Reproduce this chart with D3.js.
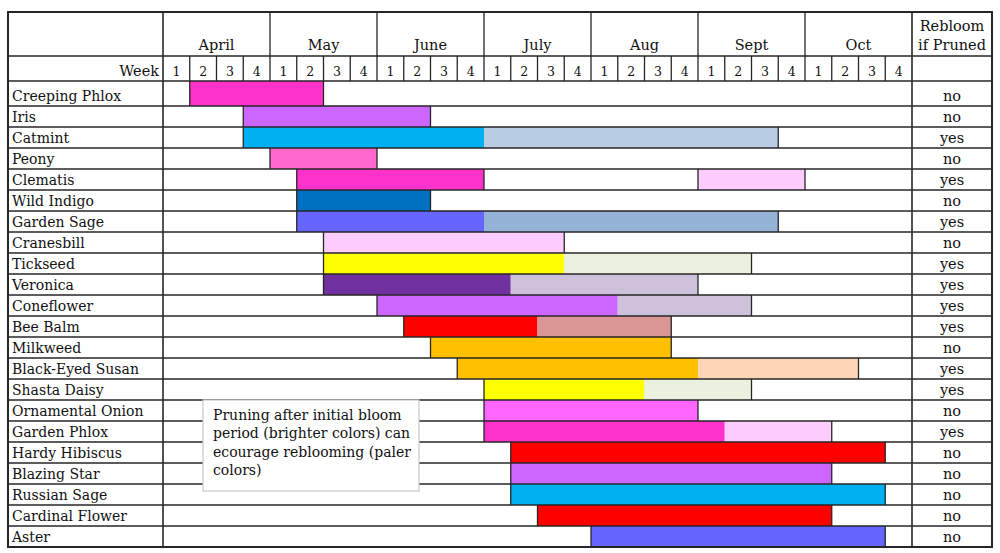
<!DOCTYPE html>
<html>
<head>
<meta charset="utf-8">
<script src="https://cdn.jsdelivr.net/npm/d3@7"></script>
<style>
  body { margin: 0; background: #fff; }
  text { font-family: "DejaVu Serif", Georgia, serif; fill: #111; }
</style>
</head>
<body>
<div id="chart"></div>
<script>
// Bloom calendar: perennials by week, brighter = first bloom, paler = rebloom after pruning

const months = ["April", "May", "June", "July", "Aug", "Sept", "Oct"];
const weekLabels = ["1", "2", "3", "4"];

const plants = ["Creeping Phlox", "Iris", "Catmint", "Peony", "Clematis", "Wild Indigo",
  "Garden Sage", "Cranesbill", "Tickseed", "Veronica", "Coneflower", "Bee Balm", "Milkweed",
  "Black-Eyed Susan", "Shasta Daisy", "Ornamental Onion", "Garden Phlox", "Hardy Hibiscus",
  "Blazing Star", "Russian Sage", "Cardinal Flower", "Aster"];

// week index (0 = April week 1), end is exclusive
const bloomStart = [1, 3, 3, 4, 5, 5, 5, 6, 6, 6, 8, 9, 10, 11, 12, 12, 12, 13, 13, 13, 14, 16];
const bloomEnd   = [6, 10, 12, 8, 12, 10, 12, 15, 15, 13, 17, 14, 19, 20, 18, 20, 21, 27, 25, 27, 25, 27];
const bloomColor = ["#ff33cc", "#cc66ff", "#00b0f0", "#ff66cc", "#ff33cc", "#0070c0",
  "#6666ff", "#ffccff", "#ffff00", "#7030a0", "#cc66ff", "#ff0000", "#ffc000",
  "#ffc000", "#ffff00", "#ff66ff", "#ff33cc", "#ff0000", "#cc66ff", "#00b0f0", "#ff0000", "#6666ff"];

// rebloom period (null = none)
const rebloomStart = [null, null, 12, null, 20, null, 12, null, 15, 13, 17, 14, null, 20, 18, null, 21, null, null, null, null, null];
const rebloomEnd   = [null, null, 23, null, 24, null, 23, null, 22, 20, 22, 19, null, 26, 22, null, 25, null, null, null, null, null];
const rebloomColor = [null, null, "#b8cce4", null, "#ffccff", null, "#95b3d7", null, "#ebf1de",
  "#ccc0da", "#ccc0da", "#da9694", null, "#fcd5b4", "#ebf1de", null, "#ffccff", null, null, null, null, null];

const rebloom = ["no", "no", "yes", "no", "yes", "no", "yes", "no", "yes", "yes", "yes", "yes",
  "no", "yes", "yes", "no", "yes", "no", "no", "no", "no", "no"];

const note = ["Pruning after initial bloom", "period (brighter colors) can",
  "ecourage reblooming (paler", "colors)"];

const W = 1000, H = 553;
const gLeft = 8, labelRight = 163, timeRight = 912, gRight = 992;
const gTop = 12, monthBottom = 56, headBottom = 81, gBottom = 547;
const lineColor = "#262626";

const svg = d3.select("#chart").append("svg")
  .attr("width", W).attr("height", H);

const nWeeks = months.length * weekLabels.length;
const x = d3.scaleLinear().domain([0, nWeeks]).range([labelRight, timeRight]);
// first row is a bit taller: it reaches up to the header line
const y = d3.scaleBand().domain(plants).range([85, gBottom]);
const rowTop = name => (name === plants[0] ? headBottom : y(name));
const rowBottom = name => y(name) + y.bandwidth();

const rows = plants.map((p, i) => ({
  name: p, s: bloomStart[i], e: bloomEnd[i], c: bloomColor[i],
  rs: rebloomStart[i], re: rebloomEnd[i], rc: rebloomColor[i], rb: rebloom[i]
}));

// bloom fills
svg.append("g").selectAll("rect")
  .data(rows).join("rect")
  .attr("x", d => x(d.s)).attr("width", d => x(d.e) - x(d.s))
  .attr("y", d => rowTop(d.name)).attr("height", d => rowBottom(d.name) - rowTop(d.name))
  .attr("fill", d => d.c);

svg.append("g").selectAll("rect")
  .data(rows.filter(d => d.rs !== null)).join("rect")
  .attr("x", d => x(d.rs)).attr("width", d => x(d.re) - x(d.rs))
  .attr("y", d => rowTop(d.name)).attr("height", d => rowBottom(d.name) - rowTop(d.name))
  .attr("fill", d => d.rc);

// cell borders at the edges of each colored block
const edges = [];
rows.forEach(d => {
  edges.push({ name: d.name, w: d.s });
  const end = d.rs !== null ? d.re : d.e;
  if (d.rs !== null && d.rs !== d.e) { edges.push({ name: d.name, w: d.e }); edges.push({ name: d.name, w: d.rs }); }
  edges.push({ name: d.name, w: end });
});
svg.append("g").selectAll("line")
  .data(edges).join("line")
  .attr("x1", d => x(d.w)).attr("x2", d => x(d.w))
  .attr("y1", d => rowTop(d.name)).attr("y2", d => rowBottom(d.name))
  .attr("stroke", lineColor).attr("stroke-width", 1.3);

// horizontal row lines
svg.append("g").selectAll("line")
  .data(plants.slice(1)).join("line")
  .attr("x1", gLeft).attr("x2", gRight)
  .attr("y1", d => y(d)).attr("y2", d => y(d))
  .attr("stroke", lineColor).attr("stroke-width", 1.3);

// header lines
const hdr = svg.append("g").attr("stroke", lineColor);
hdr.append("line").attr("x1", gLeft).attr("x2", gRight).attr("y1", monthBottom).attr("y2", monthBottom).attr("stroke-width", 1.3);
hdr.append("line").attr("x1", gLeft).attr("x2", gRight).attr("y1", headBottom).attr("y2", headBottom).attr("stroke-width", 1.6);
hdr.selectAll(".mline").data(d3.range(1, months.length)).join("line")
  .attr("x1", d => x(d * 4)).attr("x2", d => x(d * 4))
  .attr("y1", gTop).attr("y2", headBottom).attr("stroke-width", 1.3);
hdr.selectAll(".wline").data(d3.range(1, nWeeks).filter(d => d % 4 !== 0)).join("line")
  .attr("x1", d => x(d)).attr("x2", d => x(d))
  .attr("y1", monthBottom).attr("y2", headBottom).attr("stroke-width", 1.3);

// column separators
[labelRight, timeRight].forEach(v => {
  svg.append("line").attr("x1", v).attr("x2", v).attr("y1", gTop).attr("y2", gBottom)
    .attr("stroke", lineColor).attr("stroke-width", 1.6);
});

// outer border
svg.append("rect").attr("x", gLeft).attr("y", gTop)
  .attr("width", gRight - gLeft).attr("height", gBottom - gTop)
  .attr("fill", "none").attr("stroke", lineColor).attr("stroke-width", 2);

// header text
svg.append("g").selectAll("text")
  .data(months).join("text")
  .attr("x", (d, i) => x(i * 4 + 2)).attr("y", 50)
  .attr("text-anchor", "middle").attr("font-size", 14.5)
  .text(d => d);

svg.append("g").selectAll("text")
  .data(d3.range(nWeeks)).join("text")
  .attr("x", d => x(d + 0.5)).attr("y", 76)
  .attr("text-anchor", "middle").attr("font-size", 12.5)
  .text(d => weekLabels[d % 4]);

svg.append("text").attr("x", labelRight - 4).attr("y", 76)
  .attr("text-anchor", "end").attr("font-size", 14.5).text("Week");

svg.append("text").attr("x", (timeRight + gRight) / 2).attr("y", 31)
  .attr("text-anchor", "middle").attr("font-size", 14.5).text("Rebloom");
svg.append("text").attr("x", (timeRight + gRight) / 2).attr("y", 50)
  .attr("text-anchor", "middle").attr("font-size", 14.5).text("if Pruned");

// row labels
svg.append("g").selectAll("text")
  .data(rows).join("text")
  .attr("x", gLeft + 4).attr("y", d => rowBottom(d.name) - 5)
  .attr("font-size", 14)
  .text(d => d.name);

svg.append("g").selectAll("text")
  .data(rows).join("text")
  .attr("x", (timeRight + gRight) / 2).attr("y", d => rowBottom(d.name) - 5)
  .attr("text-anchor", "middle").attr("font-size", 14.5)
  .text(d => d.rb);

// note box
const box = svg.append("g");
box.append("rect").attr("x", 203).attr("y", 400).attr("width", 216).attr("height", 91)
  .attr("fill", "#fff").attr("stroke", "#c8c8c8").attr("stroke-width", 1.2);
box.selectAll("text").data(note).join("text")
  .attr("x", 213).attr("y", (d, i) => 420 + i * 18.3)
  .attr("font-size", 14)
  .text(d => d);
</script>
</body>
</html>
